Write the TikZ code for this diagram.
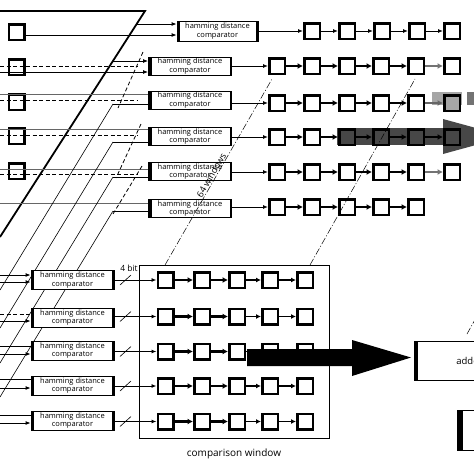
\documentclass[tikz,border=0pt]{standalone}
\usepackage{fontspec}
\setmainfont{Open Sans}
\usetikzlibrary{arrows.meta,positioning}
\tikzset{
  cell/.style   = {draw, line width=2.5pt, minimum size=15.5pt, inner sep=0pt},
  hdc/.style    = {draw, line width=0.8pt, fill=white, minimum width=83pt,
                   minimum height=18pt, inner sep=0pt, align=center,
                   font=\fontsize{7.5}{8.6}\selectfont,
                   path picture={
                     \draw[line width=6pt] (path picture bounding box.north west)
                       -- (path picture bounding box.south west);
                     \draw[line width=4pt] (path picture bounding box.north east)
                       -- (path picture bounding box.south east);}},
  lbar/.style   = {path picture={\draw[line width=#1]
                     (path picture bounding box.north west)
                       -- (path picture bounding box.south west);}},
  pipe/.style   = {-{Latex[length=5.5pt,width=6pt]}, line width=2.2pt},
  link/.style   = {-{Latex[length=5pt,width=5pt]}, line width=1.2pt},
  feed/.style   = {-{Latex[length=5pt,width=4pt]}, line width=0.9pt},
  wire/.style   = {line width=0.6pt},
  dwire/.style  = {line width=0.8pt, dash pattern=on 4pt off 2.5pt},
  window/.style = {line width=0.5pt, dash pattern=on 7pt off 2pt on 1pt off 2pt},
}
\begin{document}
\begin{tikzpicture}[x=1pt,y=-1pt]
  \path[use as bounding box, clip] (0,0) rectangle (474,474);
  % shaded tails
  \fill[black!35] (432,92) rectangle (462,105);
  \fill[black!55] (467,92) rectangle (476,105);
  \fill[black!72] (337,128) rectangle (443,145);
  \fill[black!72] (443,119) -- (507,136.5) -- (443,154) -- cycle;
  \fill (247,349) -- (352,349) -- (352,340) -- (411,357.5) -- (352,376)
        -- (352,366) -- (247,366) -- cycle;

  % input frame
  \coordinate (fa) at (0,11); \coordinate (fb) at (145,11); \coordinate (fc) at (0,237);
  \draw[line width=1.8pt] (fa) -- (fb) -- (fc);
  \foreach \i/\y in {1/32,2/67,3/102,4/136,5/171}
    \node[cell] (in\i) at (16.5,\y) {};

  % first row
  \node[hdc, minimum width=81pt, minimum height=20pt] (T1) at (217.5,31)
       {hamming distance\\comparator};
  \foreach \x [count=\c] in {312,347,382,417,452}
    \node[cell] (a\c) at (\x,31) {};
  \draw[feed] (T1) -- (a1);
  \foreach \c [evaluate=\c as \n using int(\c+1)] in {1,...,4}
    \draw[feed] (a\c) -- (a\n);
  \draw[feed] (137,24) -- (137,24 -| T1.west);
  \draw[feed] (in1.east |- 0,35) -- (0,35 -| T1.west);

  % rows 2-6
  \foreach \r/\y/\h in {2/66/66,3/103/100,4/137/136.5,5/172/171.5,6/207/208.5} {
    \node[hdc] (T\r) at (190,\h) {hamming distance\\comparator};
    \foreach \x [count=\c] in {277,312,347,381,416}
      \node[cell] (t\r\c) at (\x,\y) {};
    \draw[feed] (T\r.east |- t\r1) -- (t\r1);
    \foreach \c [evaluate=\c as \n using int(\c+1)] in {1,...,4}
      \draw[pipe] (t\r\c) -- (t\r\n);
  }
  \node[cell, fill=black!35, right=18pt of t35] (t36) {};
  \draw[pipe, black!60] (t35) -- (t36);
  \foreach \r/\g in {2/55,4/100,5/55} {
    \node[cell, right=18pt of t\r5] (t\r6) {};
    \draw[pipe, black!\g] (t\r5) -- (t\r6);
  }

  \draw[feed] (113,61) -- (113,61 -| T2.west);
  \draw[dwire] (0,66) -- (137,66);
  \draw[feed] (0,72) -- (0,72 -| T2.west);
  \foreach \r/\a/\b/\c in {3/94/100/104,4/129/135/142,5/169/174/177} {
    \draw[wire, black!60] (0,\a) -- (0,\a -| T\r.west);
    \draw[dwire] (0,\b) -- (138,\b);
    \draw[wire] (113,\c) -- (113,\c -| T\r.west);
  }
  \draw[wire, black!60] (0,203) -- (0,203 -| T6.west);
  \draw[wire] (113,211) -- (113,211 -| T6.west);
  \foreach \c in {104,142,177,211}
    \draw[wire] (113,\c) -- ++(-113,186);
  \draw[dwire] (143,52) -- (118,108);
  \draw[dwire] (141,124) -- (116,178);
  \draw[dwire] (142,166) -- (113,214);

  % comparison window
  \node[draw, line width=0.7pt, minimum width=190pt, minimum height=173pt,
        inner sep=0pt] (win) at (234,351.5) {};
  \node[below=7pt of win, font=\fontsize{10}{12}\selectfont] (winlabel) {comparison window};
  \node[font=\fontsize{8.5}{9}\selectfont] (bits) at (129,268) {4 bit};
  \foreach \r/\y/\s in {1/280/280,2/317.5/316.5,3/350.5/351.5,4/385.5/386,5/420.5/421.5} {
    \node[hdc, minimum height=19pt] (B\r) at (72.5,\y) {hamming distance\\comparator};
    \foreach \x [count=\c] in {165.5,202,237,270,305}
      \node[cell] (w\r\c) at (\x,\s) {};
    \draw[feed] (B\r.east |- w\r1) -- (w\r1);
    \draw[wire] (120,\s+5) -- (131,\s-5);
    \draw[pipe] (w\r1) -- (w\r2);
    \draw[pipe] (w\r2) -- (w\r3);
    \draw[link] (w\r3) -- (w\r4);
    \draw[link] (w\r4) -- (w\r5);
  }
  \foreach \r/\a/\b/\k in {1/275/282/feed,2/314/321/dwire,3/346/354/wire,
                           4/379/388/wire,5/415/423/wire} {
    \draw[\k] (0,\a) -- (0,\a -| B\r.west);
    \draw[feed] (0,\b) -- (0,\b -| B\r.west);
  }

  % window markers
  \coordinate (wa) at (165,265); \coordinate (wb) at (272,79);
  \draw[window] (wa) -- (wb)
     node[pos=0.47, sloped, above, inner sep=1pt, font=\fontsize{9}{10}\selectfont] {64 windows};
  \coordinate (wc) at (310,265); \coordinate (wd) at (415,79);
  \draw[window] (wc) -- (wd);

  % adder
  \node[draw, line width=0.9pt, lbar=8pt, minimum width=110pt, minimum height=39pt,
        anchor=west, font=\fontsize{9.5}{11}\selectfont] (adder) at (414,360.5) {adder};
  \coordinate (we) at (467,334); \coordinate (wf) at (477,316);
  \draw[window] (we) -- (wf);
  \node[draw, line width=0.9pt, lbar=12pt, minimum width=60pt, minimum height=40pt,
        anchor=north west] (sum) at (457,410) {};
\end{tikzpicture}
\end{document}
